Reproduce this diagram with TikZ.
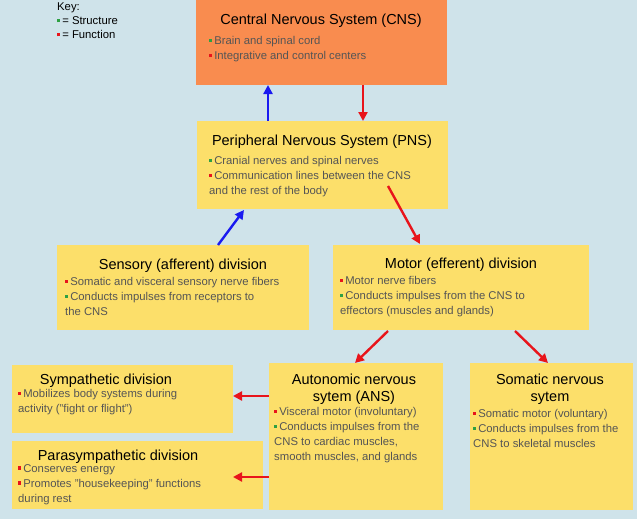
\documentclass[tikz,border=0pt]{standalone}
\usepackage{fontspec}
\setmainfont{Liberation Sans}
\usetikzlibrary{arrows.meta}
\definecolor{bg}{HTML}{CFE3EA}
\definecolor{box}{HTML}{FCDF6A}
\definecolor{cns}{HTML}{F98C4F}
\definecolor{gb}{HTML}{2EA043}
\definecolor{rb}{HTML}{E8141B}
\definecolor{tx}{HTML}{555555}
\definecolor{ar}{HTML}{E8141B}
\definecolor{ab}{HTML}{1A1AF0}
\newcommand{\gbul}{\textcolor{gb}{\rule[0.22em]{3.2pt}{3.2pt}}\,}
\newcommand{\rbul}{\textcolor{rb}{\rule[0.22em]{3.2pt}{3.2pt}}\,}
\tikzset{
 bx/.style={draw=none,fill=box},
 ttl/.style={font=\fontsize{14.5}{17}\selectfont,align=center,anchor=north},
 bdy/.style={font=\fontsize{11.3}{15}\selectfont,text=tx,align=left,anchor=north west,inner sep=0pt},
 ra/.style={draw=ar,line width=2.4pt,-{Triangle[length=9pt,width=9pt]}},
 ba/.style={draw=ab,line width=2.4pt,-{Triangle[length=9pt,width=9pt]}}
}
\begin{document}
\begin{tikzpicture}[x=1pt,y=-1pt]
\fill[bg] (0,0) rectangle (637,519);
\fill[white] (637,0) rectangle (642,519);
\useasboundingbox (0,0) rectangle (642,519);
% key
\node[bdy,text=black,font=\fontsize{11.3}{14}\selectfont] (key) at (57,3) {Key:\\\gbul= Structure\\\rbul= Function};
% boxes
\fill[cns] (196,0) rectangle (447,85); \coordinate (cnsb1) at (268,85); \coordinate (cnsb2) at (363,85);
\node[ttl] (cnst) at (321,10) {Central Nervous System (CNS)};
\node[bdy] (cnsx) at (209,36) {\gbul Brain and spinal cord\\\rbul Integrative and control centers};

\fill[box] (197,121) rectangle (448,209);
\node[ttl] (pnst) at (322,131) {Peripheral Nervous System (PNS)};
\node[bdy] (pnsx) at (209,156) {\gbul Cranial nerves and spinal nerves\\\rbul Communication lines between the CNS\\and the rest of the body};

\fill[box] (57,245) rectangle (309,330);
\node[ttl] (sent) at (183,255) {Sensory (afferent) division};
\node[bdy] (senx) at (65,277) {\rbul Somatic and visceral sensory nerve fibers\\\gbul Conducts impulses from receptors to\\the CNS};

\fill[box] (333,245) rectangle (589,330);
\node[ttl] (mott) at (461,254) {Motor (efferent) division};
\node[bdy] (motx) at (340,276) {\rbul Motor nerve fibers\\\gbul Conducts impulses from the CNS to\\effectors (muscles and glands)};

\fill[box] (12,365) rectangle (233,433);
\node[ttl] (symt) at (106,370) {Sympathetic division};
\node[bdy] (symx) at (18,389) {\rbul Mobilizes body systems during\\activity ("fight or flight")};

\fill[box] (12,441) rectangle (263,509);
\node[ttl] (part) at (118,446) {Parasympathetic division};
\node[bdy] (parx) at (18,464) {\rbul Conserves energy\\\rbul Promotes "housekeeping" functions\\during rest};

\fill[box] (269,363) rectangle (443,510);
\node[ttl] (anst) at (354,370) {Autonomic nervous\\sytem (ANS)};
\node[bdy] (ansx) at (274,407) {\rbul Visceral motor (involuntary)\\\gbul Conducts impulses from the\\CNS to cardiac muscles,\\smooth muscles, and glands};

\fill[box] (470,363) rectangle (633,510);
\node[ttl] (somt) at (550,370) {Somatic nervous\\sytem};
\node[bdy] (somx) at (473,409) {\rbul Somatic motor (voluntary)\\\gbul Conducts impulses from the\\CNS to skeletal muscles};

% connectors
\coordinate (p1) at (268,121); \coordinate (p2) at (363,121);
\coordinate (s1) at (218,245); \coordinate (p3) at (244,210);
\coordinate (p4) at (388,186); \coordinate (m1) at (420,244);
\coordinate (m2) at (388,331); \coordinate (a1) at (355,363);
\coordinate (m3) at (515,331); \coordinate (o1) at (548,363);
\coordinate (a2) at (269,396); \coordinate (y1) at (233,396);
\coordinate (a3) at (269,477); \coordinate (q1) at (233,477);
\draw[ba] (p1) -- (cnsb1);
\draw[ra] (cnsb2) -- (p2);
\draw[ba] (s1) -- (p3);
\draw[ra] (p4) -- (m1);
\draw[ra] (m2) -- (a1);
\draw[ra] (m3) -- (o1);
\draw[ra] (a2) -- (y1);
\draw[ra] (a3) -- (q1);
\end{tikzpicture}
\end{document}
